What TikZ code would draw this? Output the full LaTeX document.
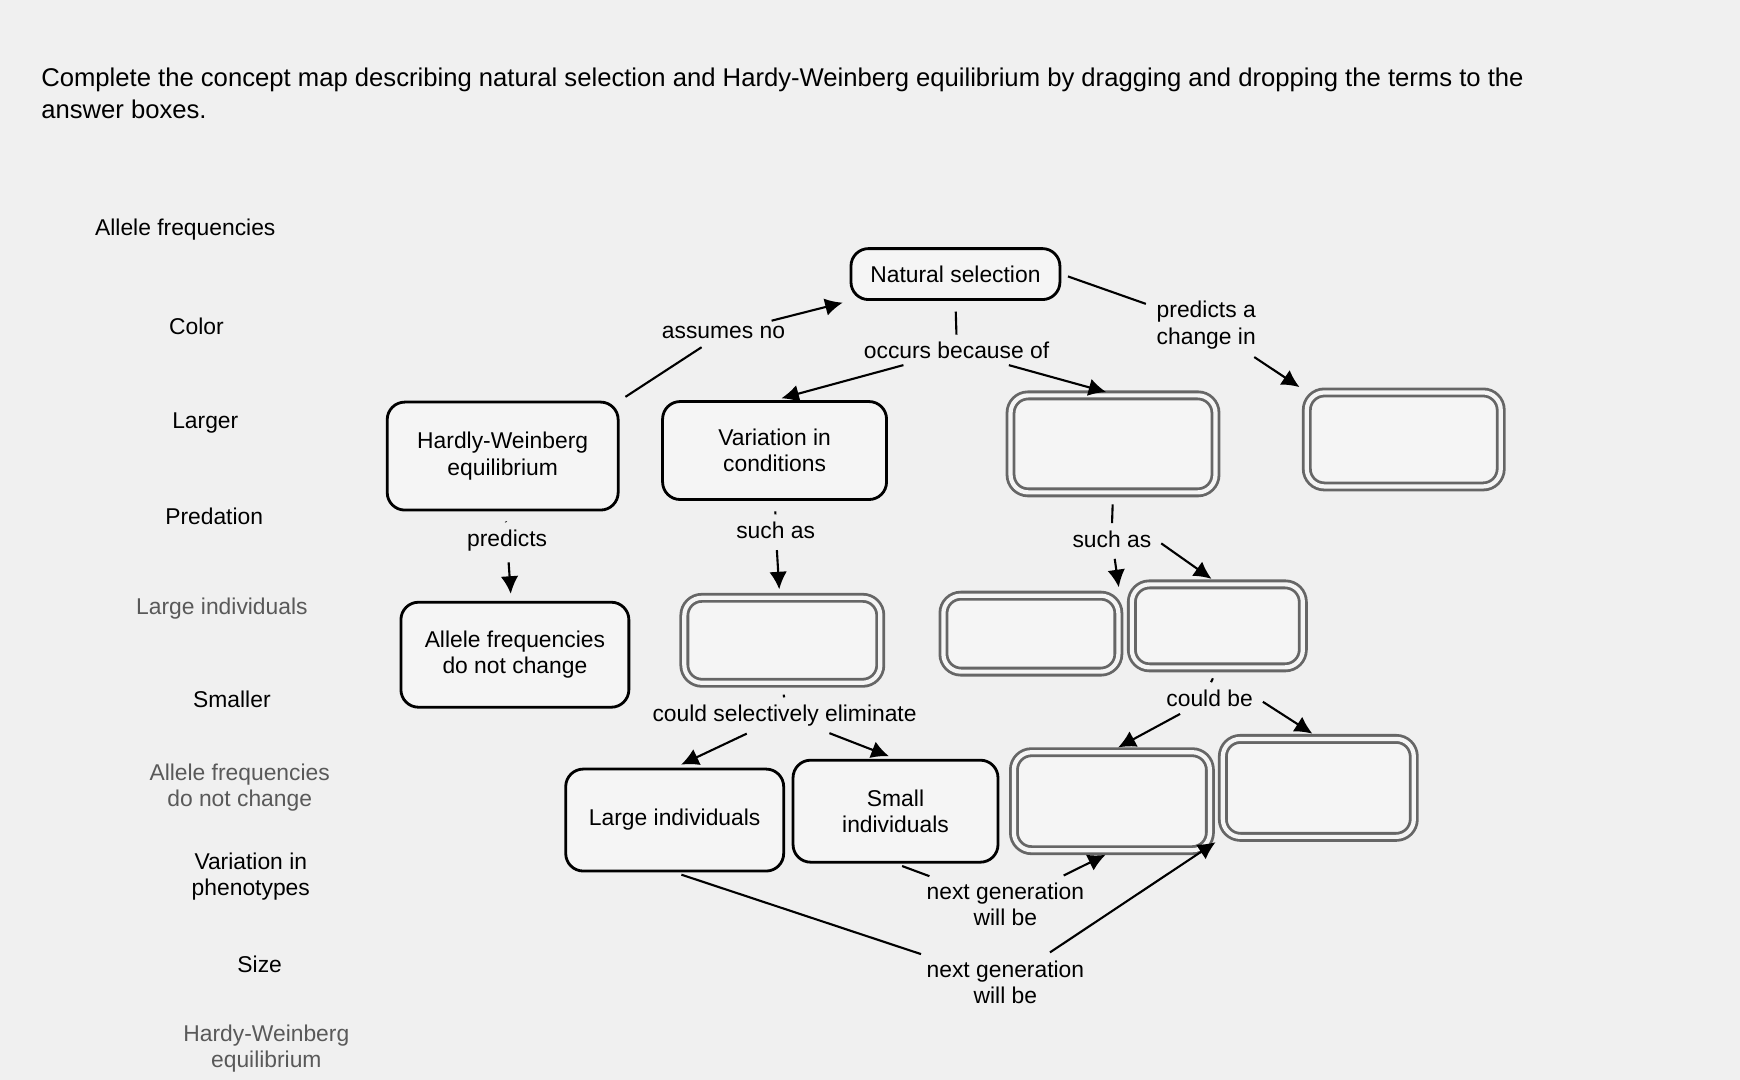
\documentclass[tikz,border=0pt]{standalone}
\usepackage{fontspec}
\setmainfont{Liberation Sans}
\usetikzlibrary{arrows.meta}
\tikzset{
  box/.style={draw, thick, rounded corners=5pt, align=center, fill=gray!8},
  slot/.style={box, double=gray!8, double distance=1.2pt, draw=gray!80!black},
  term/.style={align=center},
  faded/.style={term, text=gray!70!black},
  lbl/.style={align=center, inner sep=1pt, fill=gray!12},
  link/.style={semithick, -{Latex[length=5pt,width=5pt]}, shorten >=2pt, shorten <=2pt},
  stub/.style={semithick, shorten >=2pt, shorten <=2pt},
  tick/.style={semithick, shorten <=3pt, shorten >=1pt}
}
\begin{document}
\begin{tikzpicture}[x=0.111mm, y=-0.111mm, font=\fontsize{6.5}{7.5}\selectfont]
        % BACKGROUND
        % -----------------
        \fill[gray!12] (0,0) rectangle (1568,973);
        \useasboundingbox (0,0) rectangle (1568,973);
        
        \node[anchor=north west, align=left, font=\fontsize{7.3}{9}\selectfont] (title) at (26,50)
          {Complete the concept map describing natural selection and Hardy-Weinberg equilibrium by dragging and dropping the terms to the\\answer boxes.};
        
        % TERMS
        % -----------------
        \node[term] (t_af) at (167,207) {Allele frequencies};
        \node[term] (t_color) at (177,294) {Color};
        \node[term] (t_larger) at (185,381) {Larger};
        \node[term] (t_pred) at (193,465) {Predation};
        \node[faded] (t_li) at (200,548) {Large individuals};
        \node[term] (t_smaller) at (209,630) {Smaller};
        \node[faded] (t_afnc) at (216,710) {Allele frequencies\\do not change};
        \node[term] (t_var) at (226,790) {Variation in\\phenotypes};
        \node[term] (t_size) at (234,869) {Size};
        \node[faded] (t_hw) at (240,945) {Hardy-Weinberg\\equilibrium};
        
        % BOXES
        % -----------------
        \node[box, minimum width=2.09cm, minimum height=0.51cm] (natsel) at (861,247) {Natural selection};
        \node[box, minimum width=2.31cm, minimum height=1.08cm] (hw) at (453,411) {Hardly-Weinberg\\equilibrium};
        \node[box, minimum width=2.24cm, minimum height=0.98cm] (variation) at (698,406) {Variation in\\conditions};
        \node[slot, minimum width=2.05cm, minimum height=0.97cm] (slot_a) at (1003,400) {};
        \node[slot, minimum width=1.94cm, minimum height=0.94cm] (slot_b) at (1265,396) {};
        \node[box, minimum width=2.28cm, minimum height=1.05cm] (afnc) at (464,590) {Allele frequencies\\do not change};
        \node[slot, minimum width=1.96cm, minimum height=0.85cm] (slot_c) at (705,577) {};
        \node[slot, minimum width=1.75cm, minimum height=0.76cm] (slot_d) at (929,571) {};
        \node[slot, minimum width=1.71cm, minimum height=0.83cm] (slot_e) at (1097,564) {};
        \node[box, minimum width=2.18cm, minimum height=1.02cm] (large) at (608,739) {Large individuals};
        \node[box, minimum width=2.05cm, minimum height=1.02cm] (small) at (807,731) {Small\\individuals};
        \node[slot, minimum width=1.96cm, minimum height=0.98cm] (slot_f) at (1002,722) {};
        \node[slot, minimum width=1.91cm, minimum height=0.98cm] (slot_g) at (1188,710) {};
        
        % LABELS
        % -----------------
        \node[lbl] (assumes) at (652,300) {assumes no};
        \node[lbl] (occurs) at (862,316) {occurs because of};
        \node[lbl] (predicts_a) at (1087,293) {predicts a\\change in};
        \node[lbl] (predicts) at (457,487) {predicts};
        \node[lbl] (such_a) at (699,478) {such as};
        \node[lbl] (such_b) at (1002,486) {such as};
        \node[lbl] (eliminate) at (707,645) {could selectively eliminate};
        \node[lbl] (could_be) at (1090,629) {could be};
        \node[lbl] (next_a) at (906,815) {next generation\\will be};
        \node[lbl] (next_b) at (906,885) {next generation\\will be};
        
        % EDGES
        % -----------------
        \draw[stub] (hw.north east) -- (assumes);
        \draw[link] (assumes) -- (natsel);
        \draw[tick] (natsel.south) -- (occurs.north);
        \draw[link] (occurs) -- (variation.north);
        \draw[link] (occurs) -- (slot_a.north);
        \draw[stub] (natsel.east) -- (predicts_a);
        \draw[link] (predicts_a) -- (slot_b.north west);
        \draw[tick] (hw.south) -- (predicts.north);
        \draw[link] (predicts) -- (afnc);
        \draw[tick] (variation.south) -- (such_a.north);
        \draw[link] (such_a) -- (slot_c);
        \draw[tick] (slot_a.south) -- (such_b.north);
        \draw[link] (such_b) -- (slot_d.north east);
        \draw[link] (such_b.east) -- (slot_e.north);
        \draw[tick] (slot_c.south) -- (eliminate.north);
        \draw[link] (eliminate) -- (large.north);
        \draw[link] (eliminate) -- (small.north);
        \draw[tick] (slot_e.south) -- (could_be.north);
        \draw[link] (could_be) -- (slot_f.north);
        \draw[link] (could_be.east) -- (slot_g.north);
        \draw[stub] (small.south) -- (next_a);
        \draw[link] (next_a) -- (slot_f.south);
        \draw[stub] (large.south) -- (next_b);
        \draw[link] (next_b) -- (slot_g.south west);
\end{tikzpicture}
\end{document}
